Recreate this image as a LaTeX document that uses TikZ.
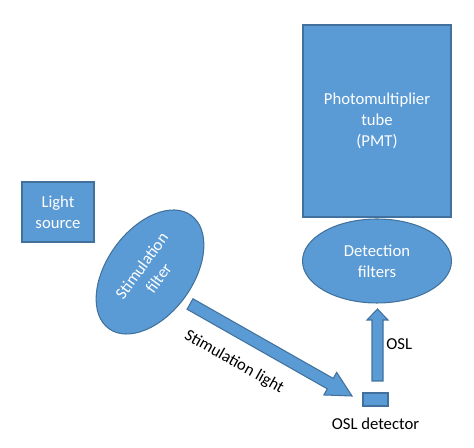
\documentclass[tikz,border=0pt]{standalone}
\usepackage{fontspec}
\setmainfont{Carlito}
\usepackage{tikz}
\usetikzlibrary{calc}
\usetikzlibrary{positioning}
\usetikzlibrary{shapes.geometric}
\usepackage{xcolor}

\definecolor{partfill}{HTML}{5B9BD5}
\definecolor{partline}{HTML}{41719C}

\tikzset{
  part/.style={draw=partline,fill=partfill,line width=0.6pt,text=white,align=center,inner sep=0pt,font=\fontsize{9.5}{11.8}\selectfont},
  box/.style={part,rectangle},
  lens/.style={part,ellipse},
  % half shaft, half head, head length
  fatarrow/.style n args={3}{draw=partline,fill=partfill,line width=0.6pt,line join=miter,
    to path={let \p1=(\tikztostart), \p2=(\tikztotarget), \n1={atan2(\y2-\y1,\x2-\x1)} in
      ($(\p1)+(\n1+90:#1)$) -- ($(\p2)+(\n1+180:#3)+(\n1+90:#1)$)
      -- ($(\p2)+(\n1+180:#3)+(\n1+90:#2)$) -- (\p2)
      -- ($(\p2)+(\n1+180:#3)+(\n1-90:#2)$) -- ($(\p2)+(\n1+180:#3)+(\n1-90:#1)$)
      -- ($(\p1)+(\n1-90:#1)$) -- cycle}},
  caption/.style={text=black,font=\fontsize{9.5}{11.8}\selectfont,inner sep=0pt}
}

\begin{document}
\begin{tikzpicture}[x=0.02cm,y=-0.02cm]
  \useasboundingbox (0,0) rectangle (474,448);

  \node[box,minimum width=1.44cm,minimum height=1.2cm] (light) at (58,212) {Light\\source};

  \node[lens,minimum width=2.8cm,minimum height=1.72cm,rotate=54] (stimfilter) at (150,272) {Stimulation\\filter};

  \node[box,minimum width=2.96cm,minimum height=3.84cm] (pmt) at (377,121) {Photomultiplier\\tube\\(PMT)};

  \node[lens,minimum width=2.98cm,minimum height=1.68cm] (detfilter) at (377,261) {Detection\\filters};

  \node[box,minimum width=0.5cm,minimum height=0.26cm] (det) at (375.5,399.5) {};
  \node[caption,below=0.22cm of det] (detlabel) {OSL detector};

  % stimulation light
  \coordinate (sl-a) at (190,304);
  \coordinate (sl-b) at (352,396);
  \draw[fatarrow={0.12cm}{0.26cm}{0.5cm}] (sl-a) to (sl-b);
  \node[caption,rotate=-29.5] (stimlabel) at (234,362) {Stimulation light};

  % OSL
  \coordinate (osl-a) at (377.5,381);
  \coordinate (osl-b) at (377.5,309);
  \draw[fatarrow={0.11cm}{0.21cm}{0.22cm}] (osl-a) to (osl-b);
  \node[caption,anchor=west] (osllabel) at (386,344) {OSL};

\end{tikzpicture}
\end{document}
